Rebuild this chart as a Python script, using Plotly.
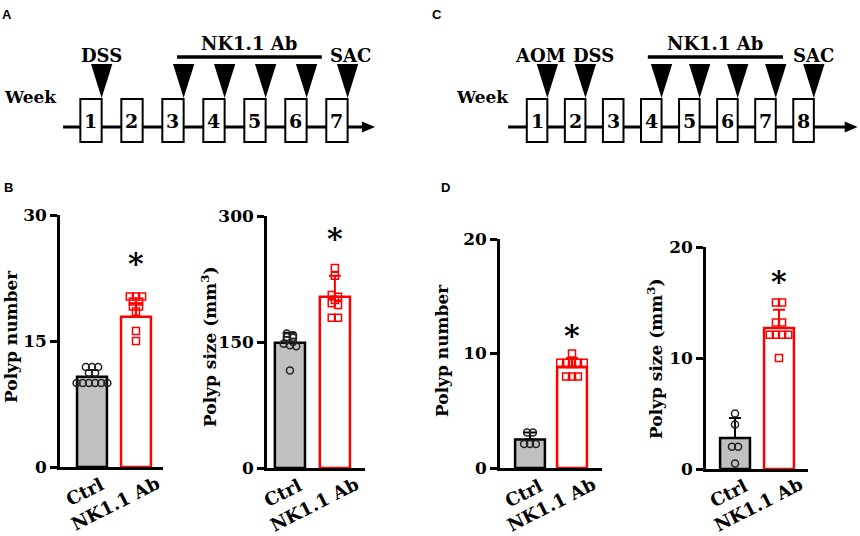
import plotly.graph_objects as go

# ---------------- data ----------------
groups = ["Ctrl", "NK1.1 Ab"]

# timelines (weeks)
weeks_A = [1, 2, 3, 4, 5, 6, 7]
events_A = [("DSS", [1]), ("NK1.1 Ab", [3, 4, 5, 6]), ("SAC", [7])]
weeks_C = [1, 2, 3, 4, 5, 6, 7, 8]
events_C = [("AOM", [1]), ("DSS", [2]), ("NK1.1 Ab", [4, 5, 6, 7]), ("SAC", [8])]

# panel B
b_num_ctrl = [10, 10, 10, 10, 10, 10, 11.2, 11.2, 11.9, 11.9, 11.9]
b_num_nk = [20.3, 20.3, 20.3, 19.7, 19.7, 19.1, 19.1, 18.5, 16.2, 15.0]
b_num_mean = [10.75, 17.9]
b_num_sd = [0.8, 1.6]

b_size_ctrl = [160, 158, 156, 155, 152, 150, 148, 146, 145, 116]
b_size_nk = [238, 229, 206, 204, 200, 196, 194, 179, 179]
b_size_mean = [149, 204]
b_size_sd = [12, 25]

# panel D
d_num_ctrl = [3.1, 3.1, 2.1, 2.1, 2.1]
d_num_nk = [10.0, 9.2, 9.2, 9.2, 9.2, 9.2, 8.0, 8.0, 8.0]
d_num_mean = [2.5, 8.8]
d_num_sd = [0.6, 0.8]

d_size_ctrl = [5.0, 4.0, 2.0, 2.0, 0.5]
d_size_nk = [15.0, 15.0, 13.2, 13.2, 12.1, 12.1, 12.1, 12.1, 10.0]
d_size_mean = [2.8, 12.7]
d_size_sd = [1.8, 1.65]

# ---------------- style ----------------
W, H = 860, 536
SERIF = "DejaVu Serif"
SANS = "Liberation Sans"
RED = "#ff0000"
GREY = "#c0c0c0"


def fx(px):
    return px / W


def fy(py):
    return 1 - py / H


fig = go.Figure()

panels = [
    dict(ax="", xd=(60, 163), yd=(215, 467), xr=(-0.727, 1.614), bw=0.68, yr=(0, 30), tv=[0, 15, 30],
         title="Polyp number", tpos=(11, 337), star=24.6, lab_y=(491, 503),
         ctrl=b_num_ctrl, nk=b_num_nk, mean=b_num_mean, sd=b_num_sd),
    dict(ax="2", xd=(267, 365), yd=(216, 468), xr=(-0.51, 1.67), bw=0.67, yr=(0, 300), tv=[0, 150, 300],
         title="Polyp size (mm<sup>3</sup>)", tpos=(209, 347), star=277, lab_y=(492, 504),
         ctrl=b_size_ctrl, nk=b_size_nk, mean=b_size_mean, sd=b_size_sd),
    dict(ax="3", xd=(500, 602), yd=(239, 468), xr=(-0.714, 1.714), bw=0.71, yr=(0, 20), tv=[0, 10, 20],
         title="Polyp number", tpos=(442, 350), star=11.8, lab_y=(493, 504),
         ctrl=d_num_ctrl, nk=d_num_nk, mean=d_num_mean, sd=d_num_sd),
    dict(ax="4", xd=(706, 808), yd=(247, 469), xr=(-0.66, 1.66), bw=0.68, yr=(0, 20), tv=[0, 10, 20],
         title="Polyp size (mm<sup>3</sup>)", tpos=(655, 359), star=17.2, lab_y=(493, 504),
         ctrl=d_size_ctrl, nk=d_size_nk, mean=d_size_mean, sd=d_size_sd),
]


def swarm(vals, yspan, spacing=0.14):
    """spread points that share (nearly) the same value side by side"""
    tol = yspan * 0.012
    offs = [0.0] * len(vals)
    used = [False] * len(vals)
    for i, v in enumerate(vals):
        if used[i]:
            continue
        idx = [j for j, w in enumerate(vals) if not used[j] and abs(w - v) <= tol]
        n = len(idx)
        for k, j in enumerate(idx):
            offs[j] = (k - (n - 1) / 2) * spacing
            used[j] = True
    return offs


annotations = []
shapes = []
layout_axes = {}

styles = [(GREY, "black", "black", "circle-open", "#222222"),
          ("white", RED, RED, "square-open", RED)]

for p in panels:
    xa = "x" + p["ax"]
    ya = "y" + p["ax"]
    span = p["yr"][1] - p["yr"][0]
    for gi, g in enumerate(groups):
        fill, lc, ec, sym, mc = styles[gi]
        fig.add_trace(go.Bar(
            x=[gi], y=[p["mean"][gi]], width=p["bw"], xaxis=xa, yaxis=ya,
            marker=dict(color=fill, line=dict(color=lc, width=2.5)),
            error_y=dict(type="data", array=[p["sd"][gi]], arrayminus=[0], symmetric=False,
                         color=ec, thickness=2, width=6),
            hoverinfo="skip"))
    for gi, g in enumerate(groups):
        vals = p["ctrl"] if gi == 0 else p["nk"]
        offs = swarm(vals, span)
        fill, lc, ec, sym, mc = styles[gi]
        fig.add_trace(go.Scatter(
            x=[gi + o for o in offs], y=vals, mode="markers", xaxis=xa, yaxis=ya,
            marker=dict(symbol=sym, size=7, color=mc, line=dict(width=1.5, color=mc)),
            cliponaxis=False, hoverinfo="skip"))

    layout_axes["xaxis" + p["ax"]] = dict(
        domain=[fx(p["xd"][0]), fx(p["xd"][1])], range=list(p["xr"]), anchor=ya,
        showline=True, linecolor="black", linewidth=2.5, ticks="", showticklabels=False,
        showgrid=False, zeroline=False, fixedrange=True, automargin=False)
    layout_axes["yaxis" + p["ax"]] = dict(
        domain=[fy(p["yd"][1]), fy(p["yd"][0])], range=list(p["yr"]), anchor=xa,
        showline=True, linecolor="black", linewidth=2.5, ticks="outside", ticklen=7,
        tickwidth=2.5, tickcolor="black", tickvals=p["tv"],
        tickfont=dict(family=SERIF, size=17, color="black", weight="bold"),
        showgrid=False, zeroline=False, fixedrange=True, automargin=False)

    for gi, (g, dx, py) in enumerate(zip(groups, [-7, -21], p["lab_y"])):
        annotations.append(dict(
            x=gi, y=fy(py), xref=xa, yref="paper", xshift=dx, text="<b>%s</b>" % g,
            showarrow=False, textangle=-27, xanchor="center", yanchor="middle",
            font=dict(family=SERIF, size=18, color="black")))
    annotations.append(dict(
        x=fx(p["tpos"][0]), y=fy(p["tpos"][1]), xref="paper", yref="paper",
        text="<b>%s</b>" % p["title"], textangle=-90, showarrow=False,
        xanchor="center", yanchor="middle", font=dict(family=SERIF, size=17, color="black")))
    annotations.append(dict(
        x=1, y=p["star"], xref=xa, yref=ya, text="<b>*</b>", showarrow=False,
        xanchor="center", yanchor="middle", yshift=-3,
        font=dict(family=SERIF, size=30, color="black")))

# ---------------- timelines ----------------
TL = dict(box_top=69, box_bot=112, line_y=97, tri_top=34, tri_tip=68,
          bar_y=27, ev_label_y=25, nk_label_y=13, num_y=91)

timelines = [
    dict(ax="5", weeks=weeks_A, events=events_A, xd=(50, 380), xr=(0, 8.05), box_hw=0.26, tri_hw=0.26,
         line=(0.32, 7.93), head=0.32, bar=(-0.16, 0.37), week_px=30,
         shifts={"DSS": 0, "SAC": 3, "AOM": 0}),
    dict(ax="6", weeks=weeks_C, events=events_C, xd=(499, 858), xr=(0, 9.43), box_hw=0.27, tri_hw=0.28,
         line=(0.24, 9.42), head=0.34, bar=(-0.36, 0.19), week_px=483,
         shifts={"AOM": -7, "DSS": 8, "SAC": 0}),
]

for t in timelines:
    xr_, yr_ = "x" + t["ax"], "y" + t["ax"]
    layout_axes["xaxis" + t["ax"]] = dict(domain=[fx(t["xd"][0]), fx(t["xd"][1])], range=list(t["xr"]),
                                          visible=False, anchor=yr_, fixedrange=True, automargin=False)
    layout_axes["yaxis" + t["ax"]] = dict(domain=[fy(150), fy(30)], range=[120, 0],
                                          visible=False, anchor=xr_, fixedrange=True, automargin=False)
    x0, x1 = t["line"]
    shapes.append(dict(type="line", xref=xr_, yref=yr_, x0=x0, x1=x1 - t["head"] * 0.6,
                       y0=TL["line_y"], y1=TL["line_y"], line=dict(color="black", width=3)))
    shapes.append(dict(type="path", xref=xr_, yref=yr_, fillcolor="black", line=dict(width=0),
                       path="M %f,%f L %f,%f L %f,%f Z" % (x1 - t["head"], TL["line_y"] - 5.5,
                                                           x1, TL["line_y"],
                                                           x1 - t["head"], TL["line_y"] + 5.5)))
    for w in t["weeks"]:
        shapes.append(dict(type="rect", xref=xr_, yref=yr_, x0=w - t["box_hw"], x1=w + t["box_hw"],
                           y0=TL["box_top"], y1=TL["box_bot"], fillcolor="white",
                           line=dict(color="black", width=2)))
        annotations.append(dict(x=w, y=TL["num_y"], xref=xr_, yref=yr_, text="<b>%d</b>" % w,
                                showarrow=False, xanchor="center", yanchor="middle",
                                font=dict(family=SERIF, size=19, color="black")))
    for name, wk in t["events"]:
        cs = [w + t["box_hw"] for w in wk]
        for c in cs:
            shapes.append(dict(type="path", xref=xr_, yref=yr_, fillcolor="black", line=dict(width=0),
                               path="M %f,%f L %f,%f L %f,%f Z" % (c - t["tri_hw"], TL["tri_top"],
                                                                   c + t["tri_hw"], TL["tri_top"],
                                                                   c, TL["tri_tip"])))
        if len(wk) > 1:
            b0, b1 = cs[0] + t["bar"][0], cs[-1] + t["bar"][1]
            shapes.append(dict(type="line", xref=xr_, yref=yr_, x0=b0, x1=b1,
                               y0=TL["bar_y"], y1=TL["bar_y"], line=dict(color="black", width=3.5)))
            annotations.append(dict(x=(b0 + b1) / 2, y=TL["nk_label_y"], xref=xr_, yref=yr_,
                                    text="<b>%s</b>" % name, showarrow=False,
                                    xanchor="center", yanchor="middle",
                                    font=dict(family=SERIF, size=18, color="black")))
        else:
            annotations.append(dict(x=cs[0], y=TL["ev_label_y"], xref=xr_, yref=yr_,
                                    xshift=t["shifts"].get(name, 0),
                                    text="<b>%s</b>" % name, showarrow=False,
                                    xanchor="center", yanchor="middle",
                                    font=dict(family=SERIF, size=18, color="black")))
    annotations.append(dict(x=fx(t["week_px"]), y=fy(97), xref="paper", yref="paper",
                            text="<b>Week</b>", showarrow=False, xanchor="center", yanchor="middle",
                            font=dict(family=SERIF, size=17, color="black")))

for letter, px, py in [("A", 7, 14), ("C", 437, 14), ("B", 8, 187), ("D", 445, 187)]:
    annotations.append(dict(x=fx(px), y=fy(py), xref="paper", yref="paper", text="<b>%s</b>" % letter,
                            showarrow=False, xanchor="center", yanchor="middle",
                            font=dict(family=SANS, size=13, color="black")))

fig.update_layout(
    width=W, height=H, margin=dict(l=0, r=0, t=0, b=0, pad=0, autoexpand=False),
    paper_bgcolor="white", plot_bgcolor="white", showlegend=False, barmode="overlay",
    annotations=annotations, shapes=shapes, **layout_axes)

# remove the browser's default 8px page margin so the figure sits at the window origin
fig.write_html("out.html", config={"displayModeBar": False},
               post_script="document.body.style.margin='0';")
